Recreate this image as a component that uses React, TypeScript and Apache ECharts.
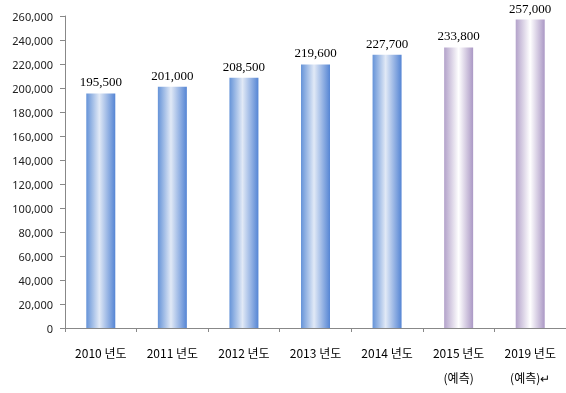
import React, { useEffect, useRef } from "react";
import * as echarts from "echarts";

const categories = ["2010 년도", "2011 년도", "2012 년도", "2013 년도", "2014 년도", "2015 년도\n(예측)", "2019 년도\n(예측)↵"];
const values = [195500, 201000, 208500, 219600, 227700, 233800, 257000];
const forecast = [false, false, false, false, false, true, true];
const yMax = 260000;
const yInterval = 20000;

const blueGrad = new echarts.graphic.LinearGradient(0, 0, 1, 0, [
  { offset: 0, color: "#6593d8" },
  { offset: 0.45, color: "#e1e9f6" },
  { offset: 1, color: "#5585d4" },
]);
const purpleGrad = new echarts.graphic.LinearGradient(0, 0, 1, 0, [
  { offset: 0, color: "#b3a2ca" },
  { offset: 0.5, color: "#ffffff" },
  { offset: 1, color: "#ab98c5" },
]);

export default function App() {
  const ref = useRef<HTMLDivElement>(null);
  useEffect(() => {
    if (!ref.current) return;
    const chart = echarts.init(ref.current, null, { renderer: "svg" });
    chart.setOption({
      animation: false,
      grid: { left: 65, right: 0, top: 16, bottom: 65 },
      xAxis: {
        type: "category",
        data: categories,
        axisLine: { lineStyle: { color: "#888888", width: 1 } },
        axisTick: { show: true, length: 4, lineStyle: { color: "#888888" } },
        axisLabel: {
          color: "#000000",
          fontSize: 12,
          fontFamily: "'Noto Sans CJK KR', 'Noto Sans', sans-serif",
          lineHeight: 25,
          margin: 12,
          interval: 0,
        },
      },
      yAxis: {
        type: "value",
        min: 0,
        max: yMax,
        interval: yInterval,
        axisLine: { show: true, lineStyle: { color: "#888888", width: 1 } },
        axisTick: { show: true, length: 5, lineStyle: { color: "#888888" } },
        splitLine: { show: false },
        axisLabel: {
          color: "#222222",
          fontSize: 11,
          fontFamily: "'Noto Sans', sans-serif",
          margin: 12,
          formatter: (v: number) => v.toLocaleString("en-US"),
        },
      },
      series: [
        {
          type: "bar",
          barWidth: 29,
          data: values.map((v, i) => ({
            value: v,
            itemStyle: { color: forecast[i] ? purpleGrad : blueGrad },
          })),
          label: {
            show: true,
            position: "top",
            distance: 5,
            color: "#000000",
            fontSize: 13,
            fontFamily: "'Liberation Serif', 'DejaVu Serif', serif",
            formatter: (p: any) => Number(p.value).toLocaleString("en-US"),
          },
        },
      ],
    });
    return () => chart.dispose();
  }, []);
  return <div ref={ref} style={{ position: "fixed", left: 0, top: 0, width: 566, height: 393 }} />;
}
